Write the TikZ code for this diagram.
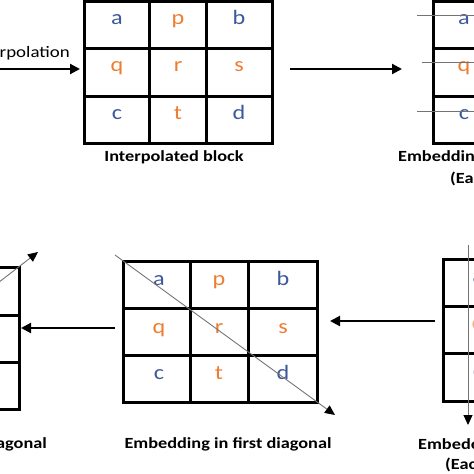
\documentclass[tikz,border=0pt]{standalone}
\usepackage{fontspec}
\setmainfont{Carlito}[FakeStretch=1.18]
\usetikzlibrary{arrows.meta}
\definecolor{lblue}{RGB}{62,88,158}
\definecolor{lorange}{RGB}{237,125,49}
\tikzset{
  gridline/.style={line width=3pt, line cap=rect},
  thick arrow/.style={line width=2.1pt, -{Triangle[length=10pt,width=10pt]}},
  thin line/.style={line width=0.9pt, draw=black!55},
  thin arrow/.style={line width=0.9pt, draw=black!55, -{Triangle[length=10pt,width=9pt,fill=black,color=black]}},
  letterb/.style={text=lblue, font=\fontsize{20.5}{22}\selectfont, anchor=base},
  lettero/.style={text=lorange, font=\fontsize{20.5}{22}\selectfont, anchor=base},
  caption/.style={font=\fontsize{15.5}{18}\selectfont\bfseries, inner sep=0pt},
  plain/.style={font=\fontsize{16}{18}\selectfont, inner sep=0pt}
}
\begin{document}
\begin{tikzpicture}[x=1pt,y=-1pt]
\useasboundingbox (0,0) rectangle (474,474);
\begin{scope}
\clip (0,0) rectangle (474,474);
% ---------- top middle grid: interpolated block
\draw[gridline] (84,1.5) rectangle (272,143);
\draw[gridline] (84,48) -- (272,48) (84,96) -- (272,96);
\draw[gridline] (149,1.5) -- (149,143) (206,1.5) -- (206,143);
\node[letterb] (ta) at (117,24) {a};
\node[lettero] (tp) at (178,24) {p};
\node[letterb] (tb) at (239,24) {b};
\node[lettero] (tq) at (117,71) {q};
\node[lettero] (tr) at (178,71) {r};
\node[lettero] (ts) at (239,71) {s};
\node[letterb] (tc) at (117,119) {c};
\node[lettero] (tt) at (178,119) {t};
\node[letterb] (td) at (239,119) {d};
\node[caption, anchor=base] (lab1) at (174,161) {Interpolated block};
% interpolation arrow
\node[plain, anchor=base east] (interp) at (70,57) {Interpolation};
\coordinate (i0) at (-5,69);
\coordinate (i1) at (80,69);
\draw[thick arrow] (i0) -- (i1);
% top arrow to the right
\coordinate (r0) at (290,69);
\coordinate (r1) at (402,69);
\draw[thick arrow] (r0) -- (r1);
% ---------- top right grid: embedding in rows
\draw[gridline] (433,1.5) -- (433,143);
\draw[gridline] (433,1.5) -- (480,1.5) (433,48) -- (480,48) (433,96) -- (480,96) (433,143) -- (480,143);
\node[letterb] (ra) at (464,24) {a};
\node[lettero] (rq) at (464,71) {q};
\node[letterb] (rc) at (464,119) {c};
\coordinate (h1a) at (417,15); \coordinate (h1b) at (480,15);
\coordinate (h2a) at (422,62); \coordinate (h2b) at (480,62);
\coordinate (h3a) at (417,111); \coordinate (h3b) at (480,111);
\draw[thin line] (h1a) -- (h1b) (h2a) -- (h2b) (h3a) -- (h3b);
\node[caption, anchor=base west] (lab2) at (398,161) {Embedding in rows};
\node[caption, anchor=base west] (lab2b) at (450,183) {(Each row)};
% ---------- bottom right grid: embedding in columns
\draw[gridline] (443,259) -- (443,401);
\draw[gridline] (443,259) -- (480,259) (443,306) -- (480,306) (443,353) -- (480,353) (443,401) -- (480,401);
\node[letterb, opacity=0.6] (ca) at (478,282) {a};
\node[lettero, opacity=0.6] (cq) at (478,329) {q};
\node[letterb, opacity=0.6] (cc) at (478,377) {c};
\coordinate (v0) at (468,245);
\coordinate (v1) at (468,425);
\draw[thin arrow] (v0) -- (v1);
\node[caption, anchor=base west] (lab3) at (418,449) {Embeded in columns};
\node[caption, anchor=base west] (lab3b) at (445,469) {(Each column)};
% arrow bottom right -> middle
\coordinate (m0) at (435,321);
\coordinate (m1) at (330,321);
\draw[thick arrow] (m0) -- (m1);
% ---------- bottom middle grid: first diagonal
\draw[gridline] (123,261) rectangle (317,402);
\draw[gridline] (123,308) -- (317,308) (123,355) -- (317,355);
\draw[gridline] (190,261) -- (190,402) (248,261) -- (248,402);
\node[letterb] (ba) at (159,285) {a};
\node[lettero] (bp) at (219,285) {p};
\node[letterb] (bb) at (283,285) {b};
\node[lettero] (bq) at (159,333) {q};
\node[lettero] (br) at (219,333) {r};
\node[lettero] (bs) at (283,333) {s};
\node[letterb] (bc) at (159,379) {c};
\node[lettero] (bt) at (219,379) {t};
\node[letterb] (bd) at (283,379) {d};
\coordinate (d0) at (115,255);
\coordinate (d1) at (335,415);
\draw[thin arrow] (d0) -- (d1);
\node[caption, anchor=base] (lab4) at (228,448) {Embedding in first diagonal};
% arrow middle -> left
\coordinate (l0) at (115,328);
\coordinate (l1) at (21,328);
\draw[thick arrow] (l0) -- (l1);
% ---------- bottom left grid: second diagonal
\draw[gridline] (19,267) -- (19,409);
\draw[gridline] (-10,267) -- (19,267) (-10,315) -- (19,315) (-10,362) -- (19,362) (-10,409) -- (19,409);
\coordinate (s0) at (-6,286);
\coordinate (s1) at (38,252);
\draw[thin arrow] (s0) -- (s1);
\node[caption, anchor=base east] (lab5) at (47,448) {Embedding in second diagonal};
\end{scope}
\end{tikzpicture}
\end{document}
